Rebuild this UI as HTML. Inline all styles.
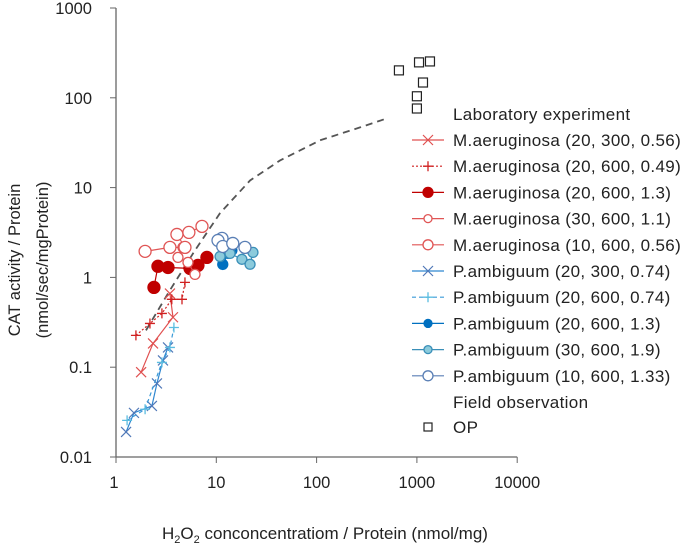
<!DOCTYPE html>
<html><head><meta charset="utf-8"><style>
body{margin:0;background:#fff;}
svg{display:block;font-family:"Liberation Sans",sans-serif;}
</style></head><body>
<svg id="c" width="685" height="544"></svg>
<script>
const xTicks=[1,10,100,1000,10000];
const yTicks=[0.01,0.1,1,10,100,1000];
const fitX=[1.99,3.45,6.13,10.9,21.7,43,108,271,502];
const fitY=[0.257,0.72,2.0,5.2,12,20,33.6,46.8,59];
const opX=[662,1050,1350,1150,1000,1000];
const opY=[202,248,254,148,104,76];
const ma1X=[1.78,2.34,3.7,3.45];const ma1Y=[0.088,0.184,0.36,0.66];
const ma2X=[1.58,2.18,2.87,3.6,4.55,4.87];const ma2Y=[0.226,0.307,0.397,0.57,0.57,0.88];
const ma3X=[2.39,2.62,3.3,5.47,6.56,8.06];const ma3Y=[0.774,1.33,1.29,1.26,1.36,1.67];
const ma4X=[4.65,4.15,5.22,6.13];const ma4Y=[2.16,1.67,1.47,1.08];
const ma5X=[1.95,3.45,4.87,4.05,5.33,7.2];const ma5Y=[1.95,2.16,2.16,3.01,3.17,3.7];
const pa1X=[1.26,1.51,2.28,2.56,2.94,3.3];const pa1Y=[0.019,0.031,0.037,0.066,0.119,0.166];
const pa2X=[1.29,1.95,2.87,3.45,3.78];const pa2Y=[0.0256,0.034,0.113,0.166,0.277];
const pa3X=[11.6,13.1,14.3];const pa3Y=[1.395,1.85,2.0];
const pa4X=[10.9,13.7,18.0,21.7,23.2];const pa4Y=[1.71,1.85,1.59,1.4,1.9];
const pa5X=[11.4,10.4,11.6,14.6,19.3];const pa5Y=[2.72,2.58,2.21,2.39,2.16];

const NS="http://www.w3.org/2000/svg";const svg=document.getElementById('c');
const X0=116,XD=100.3,Y0=457,YD=89.8;
function sx(v){return X0+(Math.log10(v))*XD;}
function sy(v){return Y0-(Math.log10(v)+2)*YD;}
function el(t,a,p){const e=document.createElementNS(NS,t);for(const k in a)e.setAttribute(k,a[k]);(p||svg).appendChild(e);return e;}
let e;
e=el('line',{x1:X0,y1:8,x2:X0,y2:Y0,stroke:'#666','stroke-width':1.3});


e=el('line',{x1:X0,y1:Y0,x2:sx(10000),y2:Y0,stroke:'#666','stroke-width':1.3});


xTicks.forEach(t=>{el('line',{x1:sx(t),y1:Y0,x2:sx(t),y2:Y0+6,stroke:'#666'});
 e=el('text',{x:sx(t)+(t===1?-2:0),y:Y0+31,'text-anchor':'middle','font-size':16.5,fill:'#222'});e.textContent=t;
 
 });
yTicks.forEach(t=>{el('line',{x1:X0-6,y1:sy(t),x2:X0,y2:sy(t),stroke:'#666'});
 e=el('text',{x:92,y:sy(t)+6,'text-anchor':'end','font-size':16.5,fill:'#222'});e.textContent=t;
 
 });
e=el('text',{x:0,y:0,'font-size':16.5,fill:'#222','text-anchor':'middle',transform:'translate(20,260) rotate(-90)'});
e.textContent='CAT activity  / Protein';
e.setAttribute('xml:space','preserve');


e=el('text',{x:0,y:0,'font-size':16.5,fill:'#222','text-anchor':'middle',transform:'translate(48,260) rotate(-90)'});
e.textContent='(nmol/sec/mgProtein)';


e=el('text',{x:162,y:539,'font-size':17,fill:'#222'});
e.innerHTML='H<tspan font-size="11" dy="4">2</tspan><tspan dy="-4">O</tspan><tspan font-size="11" dy="4">2</tspan><tspan dy="-4"> conconcentratiom / Protein (nmol/mg)</tspan>';



function marker(g,type,x,y,c,fill,r){
 if(type==='x'){const s=r;el('path',{d:`M${x-s} ${y-s}L${x+s} ${y+s}M${x-s} ${y+s}L${x+s} ${y-s}`,stroke:c,'stroke-width':1.2},g);}
 else if(type==='+'){const s=r;el('path',{d:`M${x-s} ${y}L${x+s} ${y}M${x} ${y-s}L${x} ${y+s}`,stroke:c,'stroke-width':1.3},g);}
 else if(type==='o'){el('circle',{cx:x,cy:y,r:r,stroke:c,fill:fill,'stroke-width':1.3},g);}
 else if(type==='s'){el('rect',{x:x-r,y:y-r,width:2*r,height:2*r,stroke:'#222',fill:'#fff','stroke-width':1.2},g);}
}
const series=[
 {n:'M.aeruginosa (20, 300, 0.56)',X:ma1X,Y:ma1Y,c:'#e05050',m:'x',f:'none',r:5,d:'',id:'series-ma-20-300'},
 {n:'M.aeruginosa (20, 600, 0.49)',X:ma2X,Y:ma2Y,c:'#d02020',m:'+',f:'none',r:5,d:'2,2',id:'series-ma-20-600-049'},
 {n:'M.aeruginosa (20, 600, 1.3)',X:ma3X,Y:ma3Y,c:'#c00000',m:'o',f:'#c00000',r:6,d:'',id:'series-ma-20-600-13'},
 {n:'M.aeruginosa (30, 600, 1.1)',X:ma4X,Y:ma4Y,c:'#e05555',m:'o',f:'#fff',r:5,d:'',id:'series-ma-30-600'},
 {n:'M.aeruginosa (10, 600, 0.56)',X:ma5X,Y:ma5Y,c:'#e05555',m:'o',f:'#fff',r:6,d:'',id:'series-ma-10-600'},
 {n:'P.ambiguum   (20, 300, 0.74)',X:pa1X,Y:pa1Y,c:'#5078b8',m:'x',f:'none',r:5,d:'',lc:'#2e86d0',id:'series-pa-20-300'},
 {n:'P.ambiguum   (20, 600, 0.74)',X:pa2X,Y:pa2Y,c:'#5bbde0',m:'+',f:'none',r:5,d:'4,3',lc:'#3a9ad8',id:'series-pa-20-600-074'},
 {n:'P.ambiguum (20, 600, 1.3)',X:pa3X,Y:pa3Y,c:'#0070c0',m:'o',f:'#0070c0',r:5,d:'',id:'series-pa-20-600-13'},
 {n:'P.ambiguum (30, 600, 1.9)',X:pa4X,Y:pa4Y,c:'#3a8fb8',m:'o',f:'#8ccbdc',r:5,d:'',id:'series-pa-30-600'},
 {n:'P.ambiguum (10, 600, 1.33)',X:pa5X,Y:pa5Y,c:'#5a7fb5',m:'o',f:'#fff',r:6,d:'',id:'series-pa-10-600'}
];
e=el('polyline',{points:fitX.map((v,i)=>sx(v)+','+sy(fitY[i])).join(' '),fill:'none',stroke:'#555','stroke-width':1.8,'stroke-dasharray':'7,5'});


series.forEach(s=>{
 const g=el('g',{});
 
 
 const a={points:s.X.map((v,i)=>sx(v)+','+sy(s.Y[i])).join(' '),fill:'none',stroke:s.lc||s.c,'stroke-width':1.2};
 if(s.d)a['stroke-dasharray']=s.d;
 el('polyline',a,g);
 s.X.forEach((v,i)=>marker(g,s.m,sx(v),sy(s.Y[i]),s.c,s.f,s.r));
});
const og=el('g',{});


opX.forEach((v,i)=>marker(og,'s',sx(v),sy(opY[i]),'#222','#fff',4.5));
const lg=el('g',{});


function ltext(y,t){const e=el('text',{x:453,y:y+6,'font-size':17,'letter-spacing':0.35,fill:'#222'},lg);e.setAttribute('xml:space','preserve');e.textContent=t;return e;}
e=ltext(114,'Laboratory experiment');


series.forEach((s,i)=>{const y=140+i*26.2;
 const a={x1:412,y1:y,x2:444,y2:y,stroke:s.lc||s.c,'stroke-width':1.2};if(s.d)a['stroke-dasharray']=s.d;
 el('line',a,lg);marker(lg,s.m,428,y,s.c,s.f,s.m==='o'?(s.r>5?5:4):5);
 e=ltext(y,s.n);
 
 });
e=ltext(402,'Field observation');


marker(lg,'s',428,427,'#222','#fff',4);
e=ltext(427,'OP');


</script>
</body></html>
